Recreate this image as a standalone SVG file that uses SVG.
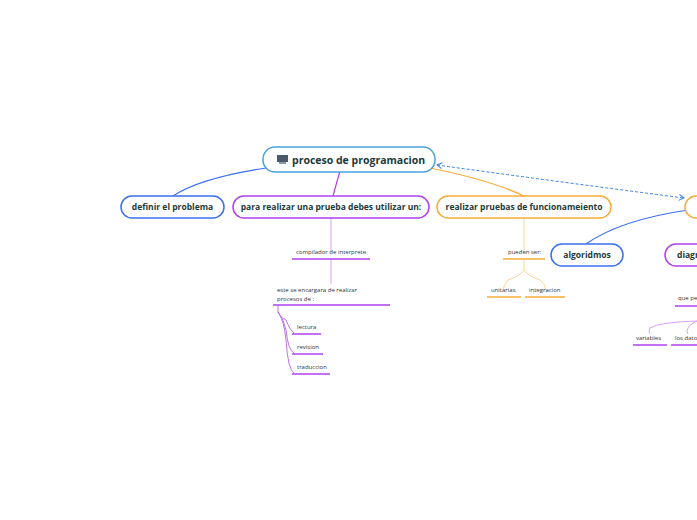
<svg xmlns="http://www.w3.org/2000/svg" width="697" height="520" viewBox="0 0 697 520">
<style>
.n{fill:#fff;stroke-width:1.5}
.b{stroke:#3a6ff0}.p{stroke:#b040f0}.o{stroke:#f8ac3a}
.t{font-family:"Open Sans","Noto Sans",sans-serif;font-weight:bold;font-size:8.5px;fill:#1b3a3a;text-anchor:middle}
.s{font-family:"Open Sans","Noto Sans",sans-serif;font-size:6px;fill:#333}
.c{fill:none;stroke-width:1.2}
.u{stroke-width:1.5}
</style>
<defs>
<marker id="ar" markerWidth="8" markerHeight="8" refX="6" refY="4" orient="auto-start-reverse" markerUnits="userSpaceOnUse"><path d="M1,1 L6,4 L1,7" fill="none" stroke="#3a80e0" stroke-width="1"/></marker>
</defs>
<g id="connectors">
<path class="c b" d="M266,168 Q200,178 173,196"/>
<path class="c p" d="M340,171 Q336,185 333,196"/>
<path class="c o" d="M430,168 Q490,180 524,196"/>
<path fill="none" stroke="#3a80e0" stroke-width="1" stroke-dasharray="3,2" d="M437,165 Q560,182 684,198" marker-start="url(#ar)" marker-end="url(#ar)"/>
<path class="c b" d="M688,210 Q620,220 586,244"/>
<path fill="none" stroke="#d8a0f8" d="M331,218 V251 M331,259 V284"/>
<path fill="none" stroke="#c070f0" d="M278,305 V312 Q280,318 286,320 Q290,330 294,333 M278,312 Q284,320 286,330 Q288,350 294,353 M278,312 Q284,320 286,340 Q288,370 294,373"/>
<path fill="none" stroke="#fcd59a" d="M524,218 V252"/>
<path fill="none" stroke="#fcd59a" d="M524,259 V270 Q520,276 508,280 Q504,284 503,290 M524,270 Q528,276 540,280 Q545,284 546,290"/>
<path fill="none" stroke="#d8a0f8" d="M697,321 Q660,322 650,328 Q648,332 650,334 M697,321 Q690,324 688,328 Q686,332 688,334"/>
</g>
<g id="root">
<rect class="n" x="263" y="147" width="172" height="25" rx="12" stroke="#4aa3dc"/>
<rect x="277" y="155" width="11" height="7" fill="#4a5a6a"/><rect x="279" y="162" width="7" height="2" fill="#8899aa"/>
<text class="t" x="292" y="164" style="font-size:10.5px;text-anchor:start">proceso de programacion</text>
</g>
<g id="definir"><rect class="n b" x="121" y="196" width="103" height="22" rx="11"/><text class="t" x="172.5" y="210">definir el problema</text></g>
<g id="para"><rect class="n p" x="233" y="196" width="196" height="22" rx="11"/><text class="t" x="331" y="210">para realizar una prueba debes utilizar un:</text></g>
<g id="pruebas"><rect class="n o" x="437" y="196" width="174" height="22" rx="11"/><text class="t" x="524" y="210">realizar pruebas de funcionameiento</text></g>
<g id="rightnode"><rect class="n o" x="685" y="196" width="60" height="22" rx="11"/></g>
<g id="algoridmos"><rect class="n b" x="551" y="244" width="72" height="22" rx="11"/><text class="t" x="587" y="258">algoridmos</text></g>
<g id="diag"><rect class="n p" x="665" y="244" width="80" height="22" rx="11"/><text class="t" x="677" y="258" style="text-anchor:start">diagrama</text></g>
<g id="compilador"><text class="s" x="296" y="254">compilador de interprete</text><line class="u p" x1="292" y1="259" x2="370" y2="259"/></g>
<g id="este"><text class="s" x="277" y="292">este se encargara de realizar</text><text class="s" x="277" y="301">procesos de :</text><line class="u p" x1="273" y1="305" x2="390" y2="305"/></g>
<g id="lectura"><text class="s" x="297" y="329">lectura</text><line class="u p" x1="292" y1="334" x2="321" y2="334"/></g>
<g id="revision"><text class="s" x="297" y="349">revision</text><line class="u p" x1="292" y1="354" x2="323" y2="354"/></g>
<g id="traduccion"><text class="s" x="297" y="369">traduccion</text><line class="u p" x1="292" y1="374" x2="330" y2="374"/></g>
<g id="pueden"><text class="s" x="508" y="254">pueden ser:</text><line class="u o" x1="503" y1="259" x2="545" y2="259"/></g>
<g id="unitarias"><text class="s" x="491" y="292">unitarias</text><line class="u o" x1="487" y1="297" x2="521" y2="297"/></g>
<g id="integracion"><text class="s" x="529" y="292">integracion</text><line class="u o" x1="525" y1="297" x2="565" y2="297"/></g>
<g id="quepe"><text class="s" x="678" y="300">que pe</text><line class="u p" x1="675" y1="306" x2="697" y2="306"/></g>
<g id="variables"><text class="s" x="636" y="340">variables</text><line class="u p" x1="633" y1="345" x2="667" y2="345"/></g>
<g id="losdatos"><text class="s" x="675" y="340">los datos</text><line class="u p" x1="671" y1="345" x2="697" y2="345"/></g>
</svg>
